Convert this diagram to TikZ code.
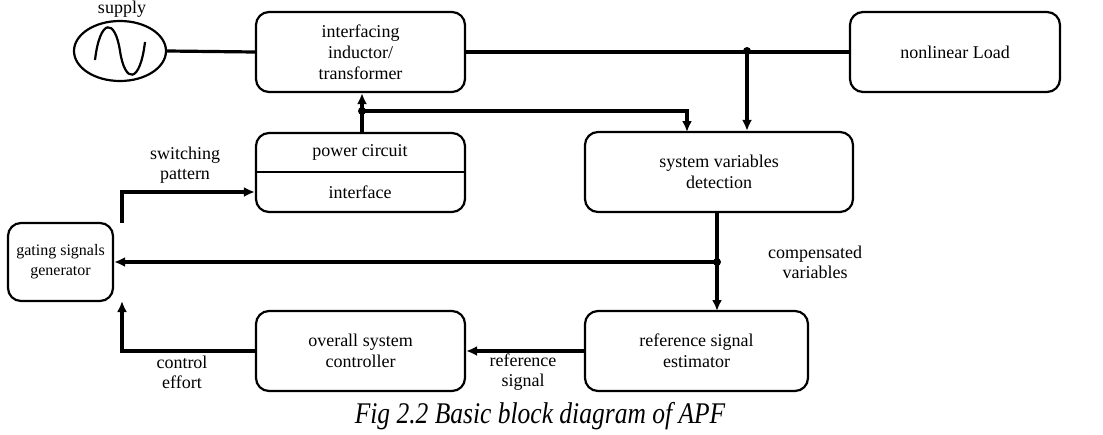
\documentclass[tikz,border=0pt]{standalone}
\usepackage{fontspec}
\setmainfont{Liberation Serif}
\usetikzlibrary{arrows.meta,shapes.geometric}
\begin{document}
\begin{tikzpicture}[x=1pt,y=-1pt,
  box/.style={draw,line width=2.2pt,rounded corners=13pt,align=center,font=\fontsize{18}{21}\selectfont,inner sep=0pt},
  lab/.style={align=center,font=\fontsize{18}{20}\selectfont},
  wire/.style={line width=3.2pt},
  arr/.style={wire,-{Latex[length=11pt,width=10pt]}},
  dot/.style={circle,fill,inner sep=0pt,minimum size=8pt}]
\useasboundingbox (0,0) rectangle (1103,434);
\node[draw,ellipse,line width=2.2pt,minimum width=92pt,minimum height=60pt,inner sep=0pt] (src) at (120,51) {};
\draw[line width=2.2pt] (95,60) .. controls (100,18) and (115,18) .. (120,51) .. controls (125,84) and (140,84) .. (145,42);
\node[lab] (sup) at (122,9) {supply};
\node[box,minimum width=209pt,minimum height=80pt] (ind) at (360.5,52) {interfacing\\inductor/\\transformer};
\node[box,minimum width=210pt,minimum height=80pt] (load) at (955,52) {nonlinear Load};
\node[box,minimum width=209pt,minimum height=79pt] (pc) at (360.5,172.5) {};
\draw[line width=2.2pt] (pc.west |- 0,172) -- (pc.east |- 0,172);
\node[lab] (pct) at (360,152) {power circuit};
\node[lab] (pci) at (360,192) {interface};
\node[box,minimum width=268pt,minimum height=80pt] (svd) at (719,172) {system variables\\detection};
\node[box,minimum width=105pt,minimum height=78pt,font=\fontsize{16}{20}\selectfont] (gsg) at (60.5,262) {gating signals\\generator};
\node[box,minimum width=223pt,minimum height=80pt] (rse) at (696.5,351) {reference signal\\estimator};
\node[box,minimum width=209pt,minimum height=80pt] (osc) at (360.5,351) {overall system\\controller};
\coordinate (j1) at (747,51);
\coordinate (j2) at (362,111);
\coordinate (j3) at (717,262);
\node[dot] at (j1) {};
\node[dot] at (j2) {};
\node[dot] at (j3) {};
\draw[wire] (src.east) -- (ind.west);
\draw[wire] (ind.east) -- (load.west);
\draw[arr] (j1) -- (j1 |- svd.north);
\draw[arr] (pc.north -| j2) -- (ind.south -| j2);
\draw[arr] (j2) -- (687,111) -- (687,132);
\draw[arr] (717,212) -- (717,311);
\draw[arr] (j3) -- (gsg.east |- j3);
\draw[arr] (122,223) -- (122,192) -- (pc.west |- 0,192);
\draw[arr] (rse.west) -- (osc.east);
\draw[arr] (osc.west) -- (122,351) -- (122,301);
\node[lab] (sw) at (185,165) {switching\\pattern};
\node[lab] (cv) at (815,262) {compensated\\variables};
\node[lab] (rs) at (523,372) {reference\\signal};
\node[lab] (ce) at (182,372) {control\\effort};
\node[font=\itshape\fontsize{30}{30}\selectfont,xscale=0.85] (cap) at (540,416) {Fig 2.2 Basic block diagram of APF};
\end{tikzpicture}
\end{document}
